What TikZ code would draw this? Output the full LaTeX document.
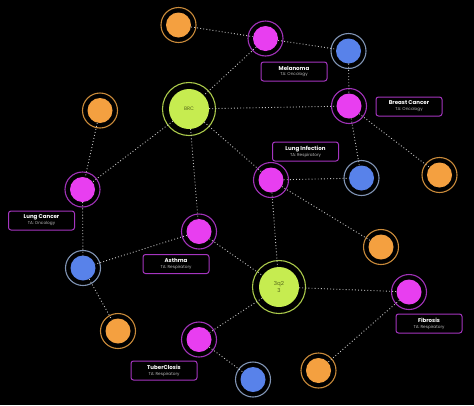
\documentclass[tikz,border=0pt]{standalone}
\usepackage{fontspec}
\setmainfont{Poppins}
\definecolor{magF}{HTML}{E83EF0}
\definecolor{magR}{HTML}{A032B8}
\definecolor{bluF}{HTML}{5882EA}
\definecolor{bluR}{HTML}{8094B5}
\definecolor{orgF}{HTML}{F4A040}
\definecolor{orgR}{HTML}{C98A3A}
\definecolor{limF}{HTML}{C6EC50}
\definecolor{limR}{HTML}{AAC94A}
\definecolor{limT}{HTML}{55661A}
\definecolor{lblC}{HTML}{A535C0}
\definecolor{edgeC}{HTML}{C4C4C4}
\definecolor{subC}{HTML}{BBBBBB}
\begin{document}
\begin{tikzpicture}[x=1pt,y=-1pt,
  fillc/.style={circle, inner sep=0pt, minimum size=25pt},
  ringc/.style={circle, draw, line width=1.1pt, minimum size=35pt, inner sep=0pt},
  mag/.style={fillc, fill=magF},
  magring/.style={ringc, draw=magR},
  blu/.style={fillc, fill=bluF},
  bluring/.style={ringc, draw=bluR},
  org/.style={fillc, fill=orgF},
  orgring/.style={ringc, draw=orgR},
  lim/.style={circle, inner sep=0pt, minimum size=40pt, fill=limF, text=limT, align=center, font=\fontsize{5}{6}\selectfont},
  limring/.style={circle, draw=limR, line width=1.1pt, minimum size=53pt, inner sep=0pt},
  lbl/.style={draw=lblC, line width=1pt, rounded corners=2.5pt, fill=black, text=white, minimum width=66pt, minimum height=19pt, align=center, inner sep=0pt, font=\fontsize{4.2}{5.8}\selectfont},
  link/.style={draw=edgeC, line width=0.9pt, dash pattern=on 0.9pt off 2.2pt}
]
\newcommand{\lbltext}[2]{{\fontsize{5.5}{5.8}\selectfont\bfseries #1}\\{\color{subC}#2}}
\fill[black] (0,0) rectangle (474,405);
\useasboundingbox (0,0) rectangle (474,405);

% orange nodes
\foreach \n/\x/\y in {o1/178.5/25, o2/100/110.5, o3/439.5/175, o4/381/247, o5/118/331, o6/318.5/370.5}{
  \node[orgring] (\n r) at (\x,\y) {};
  \node[org] (\n) at (\x,\y) {};
}
% blue nodes
\foreach \n/\x/\y in {b1/348.5/51, b2/361.5/178, b3/83/268, b4/253/379.5}{
  \node[bluring] (\n r) at (\x,\y) {};
  \node[blu] (\n) at (\x,\y) {};
}
% magenta nodes
\foreach \n/\x/\y in {mel/265.5/38.5, bc/349/106, li/271/180, lc/82.5/189.5, as/199/231.5, tb/199/339.5, fib/409/292}{
  \node[magring] (\n r) at (\x,\y) {};
  \node[mag] (\n) at (\x,\y) {};
}
% lime nodes
\node[limring] (brcr) at (189,109) {};
\node[lim] (brc) at (189,109) {BRC};
\node[limring] (qr) at (279,287) {};
\node[lim, font=\fontsize{5.5}{6.5}\selectfont] (q) at (279,287) {3q2\\3};

% labels
\node[lbl] (lmel) at (294,71.5) {\lbltext{Melanoma}{TA: Oncology}};
\node[lbl] (lbc) at (409,106.5) {\lbltext{Breast Cancer}{TA: Oncology}};
\node[lbl] (lli) at (305.5,151.5) {\lbltext{Lung Infection}{TA: Respiratory}};
\node[lbl] (llc) at (41.5,220.5) {\lbltext{Lung Cancer}{TA: Oncology}};
\node[lbl] (las) at (176,264) {\lbltext{Asthma}{TA: Respiratory}};
\node[lbl] (ltb) at (164,370.5) {\lbltext{TuberClosis}{TA: Respiratory}};
\node[lbl] (lfib) at (429,323.5) {\lbltext{Fibrosis}{TA: Respiratory}};

% links
\foreach \a/\b in {o1/mel, mel/b1, mel/brc, b1/bc, brc/bc, bc/b2, bc/o3, brc/lc, brc/as, brc/li, o2/lc, lc/b3, li/b2, li/o4, li/q, as/b3, as/q, b3/o5, q/tb, tb/b4, q/fib, fib/o6}{
  \draw[link] (\a) -- (\b);
}
\end{tikzpicture}
\end{document}
